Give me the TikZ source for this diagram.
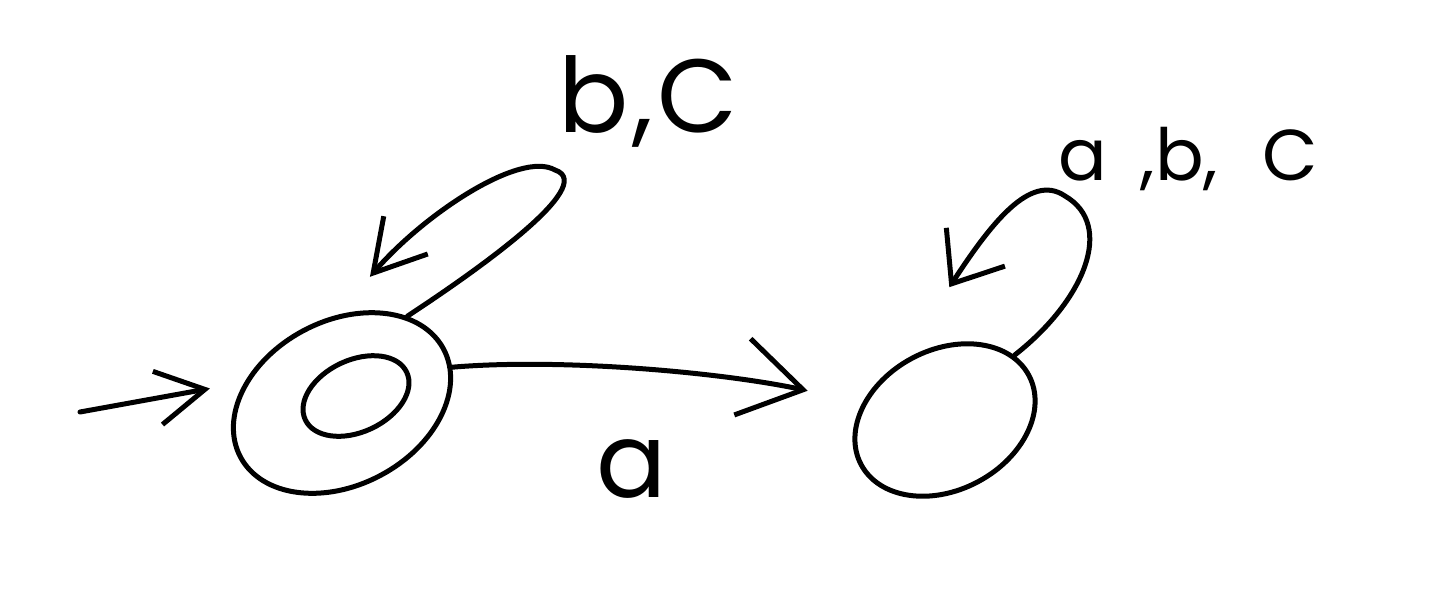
\documentclass[tikz,border=0pt]{standalone}
\usepackage{fontspec}
\setmainfont{Poppins}
\usetikzlibrary{arrows.meta,shapes.geometric}
\begin{document}
\begin{tikzpicture}[x=1pt,y=-1pt,
  pen/.style={line width=5pt, line cap=round, line join=round},
  statebox/.style={pen, draw, ellipse, inner sep=0pt},
  lbl/.style={inner sep=0pt, anchor=base},
  big/.style={font=\fontsize{104}{114}\selectfont},
  small/.style={font=\fontsize{72}{80}\selectfont}
]
\useasboundingbox (0,0) rectangle (1432,603);
% states
\node[statebox, minimum width=230pt, minimum height=164pt, rotate=28] (q0) at (342,403) {};
\node[statebox, minimum width=112pt, minimum height=72pt, rotate=25] (q0in) at (356,396) {};
\node[statebox, minimum width=190pt, minimum height=140pt, rotate=28] (q1) at (945,420) {};
% initial arrow
\coordinate (start) at (80,412);
\draw[pen, -{Straight Barb[length=48pt,width=54pt]}, shorten >=35pt] (start) -- (q0.140);
% transition a
\draw[pen, -{Straight Barb[length=62pt,width=78pt]}, shorten >=56pt]
  (q0.-10) .. controls (560,358) and (720,372) .. (q1.140);
% self loop on q0
\draw[pen, -{Straight Barb[length=50pt,width=58pt]}, shorten >=50pt]
  (q0.25) .. controls (470,275) and (600,185) .. (555,170)
          .. controls (520,150) and (423,215) .. (q0.65);
% self loop on q1
\draw[pen, -{Straight Barb[length=44pt,width=70pt]}, shorten >=90pt]
  (q1.15) .. controls (1085,300) and (1115,225) .. (1065,196)
          .. controls (1030,172) and (990,225) .. (q1.100);
% labels
\node[lbl, big] (la) at (632,497) {a};
\node[lbl, big] (lbc) at (648,132) {b\hspace{4pt},\hspace{4pt}C};
\node[lbl, small] (labc) at (1188,180) {a\hspace{34pt},b,\hspace{44pt}C};
\end{tikzpicture}
\end{document}
